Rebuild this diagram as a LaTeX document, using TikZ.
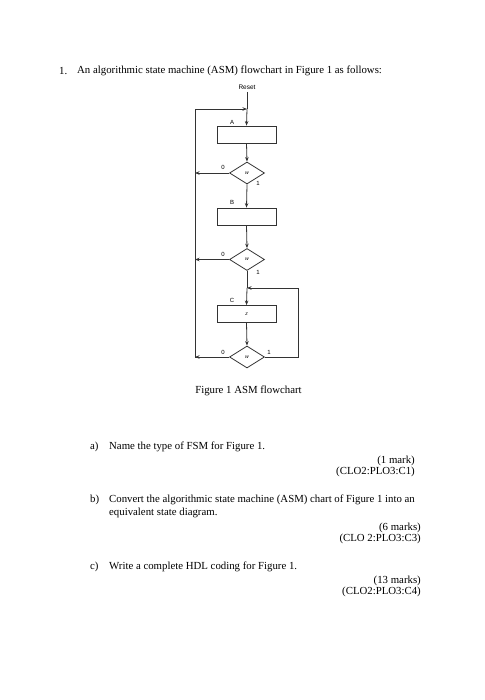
\documentclass[tikz,border=0pt]{standalone}
\usepackage{fontspec}
\setmainfont{Liberation Serif}
\setsansfont{Liberation Sans}
\usetikzlibrary{shapes.geometric,arrows.meta}
\tikzset{
  txt/.style={inner sep=0pt,font=\fontsize{10.8}{13}\selectfont},
  fc/.style={line width=0.8pt,draw=black!80},
  arr/.style={fc,-{Stealth[length=4.5pt,width=3.5pt]}},
  statebox/.style={fc,rectangle,minimum width=59pt,minimum height=17pt,inner sep=0pt,font=\sffamily\fontsize{5}{6}\selectfont},
  decision/.style={fc,diamond,minimum width=35pt,minimum height=22pt,inner sep=0pt,font=\sffamily\fontsize{5}{6}\selectfont},
  lbl/.style={inner sep=0pt,font=\sffamily\fontsize{6}{7}\selectfont},
}
\begin{document}
\begin{tikzpicture}[x=1pt,y=-1pt]
\useasboundingbox (0,0) rectangle (484,700);
\fill[white] (0,0) rectangle (484,700);
% header
\node[txt,anchor=west] (n1) at (59,71) {1.};
\node[txt,anchor=west] (q) at (77,71) {An algorithmic state machine (ASM) flowchart in Figure 1 as follows:};
% flowchart
\node[lbl,font=\sffamily\fontsize{6.5}{7}\selectfont] (reset) at (247,87) {Reset};
\coordinate (r0) at (247,92);
\coordinate (j1) at (247,109);
\node[statebox] (A) at (246.5,134.5) {};
\node[lbl,anchor=center] (la) at (232,122) {A};
\node[decision] (d1) at (247,173) {\textit{w}};
\node[statebox] (B) at (246.5,216.5) {};
\node[lbl] (lb) at (232,202) {B};
\node[decision] (d2) at (247,259.5) {\textit{w}};
\coordinate (j2) at (247,288);
\node[statebox] (C) at (246.5,314) {\textit{z}};
\node[lbl] (lc) at (232,300) {C};
\node[decision] (d3) at (247,357) {\textit{w}};
\coordinate (L1) at (195,109);
\coordinate (L3) at (195,357);
\coordinate (R3) at (298,357);
\coordinate (R2) at (298,288);
% labels
\node[lbl] (z1) at (223,167) {0};
\node[lbl] (o1) at (258,183) {1};
\node[lbl] (z2) at (223,254) {0};
\node[lbl] (o2) at (258,272) {1};
\node[lbl] (z3) at (223,352) {0};
\node[lbl] (o3) at (269,352) {1};
% connectors
\draw[fc] (r0) -- (j1);
\draw[arr] (j1) -- (A.north);
\draw[arr] (A.south) -- (d1.north);
\draw[arr] (d1.south) -- (B.north);
\draw[arr] (B.south) -- (d2.north);
\draw[fc] (d2.south) -- (j2);
\draw[arr] (j2) -- (C.north);
\draw[arr] (C.south) -- (d3.north);
\draw[fc] (d3.west) -- (L3) -- (L1);
\draw[arr] (L1) -- (j1);
\draw[arr] (d1.west) -- (d1.west -| L1);
\draw[arr] (d2.west) -- (d2.west -| L1);
\draw[arr] (d3.west) -- (L3);
\draw[fc] (d3.east) -- (R3) -- (R2);
\draw[arr] (R2) -- (j2);
% caption
\node[txt] (cap) at (248.5,391) {Figure 1 ASM flowchart};
% questions
\node[txt,anchor=west] (qa) at (90,447) {a)};
\node[txt,anchor=west] (qat) at (109,447) {Name the type of FSM for Figure 1.};
\node[txt,anchor=east] (ma) at (415,461) {(1 mark)};
\node[txt,anchor=east] (ca) at (415,472) {(CLO2:PLO3:C1)};
\node[txt,anchor=west] (qb) at (90,500) {b)};
\node[txt,anchor=west] (qbt) at (109,500) {Convert the algorithmic state machine (ASM) chart of Figure 1 into an};
\node[txt,anchor=west] (qbt2) at (109,513) {equivalent state diagram.};
\node[txt,anchor=east] (mb) at (421,528) {(6 marks)};
\node[txt,anchor=east] (cb) at (421,539) {(CLO 2:PLO3:C3)};
\node[txt,anchor=west] (qc) at (90,567) {c)};
\node[txt,anchor=west] (qct) at (109,567) {Write a complete HDL coding for Figure 1.};
\node[txt,anchor=east] (mc) at (421,581) {(13 marks)};
\node[txt,anchor=east] (cc) at (421,592) {(CLO2:PLO3:C4)};
\end{tikzpicture}
\end{document}
